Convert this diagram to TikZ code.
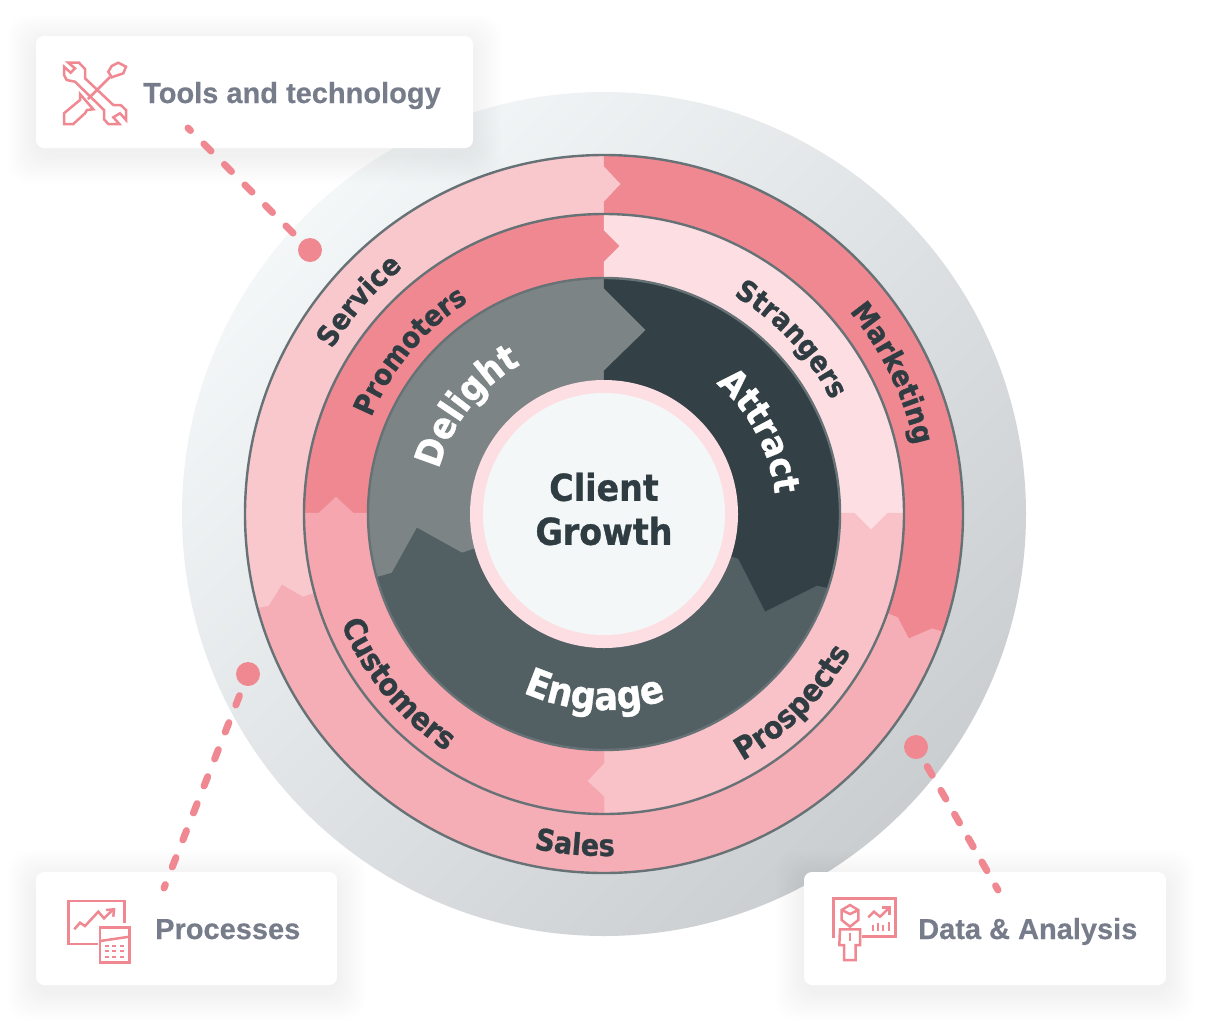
\documentclass[tikz,border=0pt]{standalone}
\usepackage{fontspec}
\setmainfont{Liberation Sans}
\newfontfamily\hv[FakeStretch=0.9,FakeBold=0.9]{DejaVu Sans Bold}
\newfontfamily\cardf[FakeBold=0.4]{Liberation Sans Bold}
\usetikzlibrary{decorations.text,calc}
\definecolor{pinkA}{HTML}{F08892}
\definecolor{pinkB}{HTML}{F8C8CC}
\definecolor{pinkC}{HTML}{F5AEB5}
\definecolor{pinkD}{HTML}{FDDFE3}
\definecolor{pinkE}{HTML}{F8C2C8}
\definecolor{pinkF}{HTML}{F5A6AF}
\definecolor{delightc}{HTML}{7C8486}
\definecolor{attractc}{HTML}{334146}
\definecolor{engagec}{HTML}{525F63}
\definecolor{ringline}{HTML}{667275}
\definecolor{core}{HTML}{F3F7F8}
\definecolor{discend}{HTML}{CACED1}
\definecolor{cardtext}{HTML}{767C8A}
\definecolor{ink}{HTML}{2F3D43}
\tikzset{
  ringline/.style={draw=ringline,line width=2.4},
  card/.style={fill=white,rounded corners=8,inner sep=0pt},
  cardlabel/.style={font=\cardf\fontsize{29}{29}\selectfont,text=cardtext,inner sep=0pt,anchor=base west},
  icon/.style={draw=pinkA,line width=2.5,line join=miter,fill=none},
  leader/.style={draw=pinkA,line width=7,line cap=round,dash pattern=on 10 off 19},
  dotn/.style={circle,fill=pinkA,inner sep=0pt,minimum size=24},
  seg/.style={line width=.4},
}
\newcommand{\softshadow}[4]{%
  \foreach \s in {1,...,14}{\fill[black,opacity=.003,rounded corners=20] (#1-2*\s,#2-2*\s+7) rectangle (#3+2*\s,#4+2*\s+7);}}
\newcommand{\arclabel}[6]{% radius, start, end, font size, color, text
  \path[decorate,decoration={text along path,text align={center},
    text={|\hv\fontsize{#4}{#4}\selectfont\color{#5}|#6}}]
    ($(604,514)+(#2:#1)$) arc[start angle=#2,end angle=#3,radius=#1];}
\begin{document}
\begin{tikzpicture}[x=1pt,y=-1pt]
\useasboundingbox (0,0) rectangle (1207,1026);
\fill[white] (0,0) rectangle (1207,1026);
\coordinate (c) at (604,514);
% outer gradient disc
\shade[top color=core,bottom color=discend,shading angle=45] (c) circle[radius=422];
% ring 1
\begin{scope}
\clip (c) circle[radius=359];
\fill[pinkB] (c) circle[radius=359];
\filldraw[pinkC,seg] (230,620)--(259,608)--(269,606)--(282,585)--(303,597)--(312,594)--(604,514)--(1000,640)--(1000,1000)--(200,1000)--cycle;
\filldraw[pinkA,seg] (604,100)--(1000,100)--(1000,648)--(942,631)--(932,628)--(909,638)--(898,617)--(888,613)--(604,514)--(604,202)--(621,184)--(604,166)--cycle;
\end{scope}
\draw[ringline] (c) circle[radius=359];
% ring 2
\begin{scope}
\clip (c) circle[radius=300];
\fill[pinkA] (c) circle[radius=300];
\filldraw[pinkD,seg] (604,200)--(1000,200)--(1000,513)--(888,513)--(871,530)--(854,513)--(604,513)--(604,262)--(620,246)--(604,230)--cycle;
\filldraw[pinkE,seg] (1000,513)--(888,513)--(871,530)--(854,513)--(604,513)--(604,763)--(587,781)--(604,797)--(604,900)--(1000,900)--cycle;
\filldraw[pinkF,seg] (604,900)--(604,797)--(587,781)--(604,763)--(604,513)--(353,513)--(336,497)--(319,513)--(200,513)--(200,900)--cycle;
\end{scope}
\draw[ringline] (c) circle[radius=300];
% ring 3
\begin{scope}
\clip (c) circle[radius=236];
\fill[delightc] (c) circle[radius=236];
\filldraw[attractc,seg] (604,200)--(900,200)--(900,606)--(826,588)--(817,586)--(765,612)--(738,559)--(732,557)--(604,514)--(604,371)--(646,330)--(604,288)--cycle;
\filldraw[engagec,seg] (300,597)--(378,577)--(392,573)--(417,528)--(462,553)--(474,549)--(604,514)--(732,557)--(738,559)--(765,612)--(817,586)--(826,588)--(900,606)--(900,800)--(300,800)--cycle;
\end{scope}
\draw[ringline] (c) circle[radius=236];
% centre
\fill[pinkD] (c) circle[radius=134];
\node[circle,fill=core,minimum size=242,inner sep=0pt] (hub) at (c) {};
\node[font=\hv\fontsize{37}{44}\selectfont,text=ink,align=center,inner sep=0pt] (hubtext) at (604,509) {Client\\Growth};
% ring labels
\arclabel{318}{-165}{-113}{29}{ink}{Service}
\arclabel{252}{-165}{-115}{29}{ink}{Promoters}
\arclabel{171}{-177}{-107}{37}{white}{Delight}
\arclabel{318}{-50}{-2}{29}{ink}{Marketing}
\arclabel{254}{-68}{-18}{29}{ink}{Strangers}
\arclabel{172}{-63}{7}{36}{white}{Attract}
\arclabel{283}{70}{20}{31}{ink}{Prospects}
\arclabel{285}{168}{113}{31}{ink}{Customers}
\arclabel{196}{128}{58}{39}{white}{Engage}
\arclabel{342}{110}{80}{30}{ink}{Sales}
% cards
\softshadow{36}{36}{473}{148}
\softshadow{36}{872}{337}{985}
\softshadow{804}{872}{1166}{985}
\node[card,minimum width=437,minimum height=112] (toolsCard) at (254.5,92) {};
\node[card,minimum width=301,minimum height=113] (procCard) at (186.5,928.5) {};
\node[card,minimum width=362,minimum height=113] (dataCard) at (985,928.5) {};
\node[cardlabel] (toolsText) at (143,103) {Tools and technology};
\node[cardlabel] (procText) at (155,939) {Processes};
\node[cardlabel] (dataText) at (918,939) {Data \& Analysis};
% tools icon
\draw[icon] (68.3,62.7)--(79,62.7)--(85,69)--(85,78.3)--(113.3,105)--(120.7,105)--(126,110)--(126,120)--(120,113.3)--(113.3,117.3)--(119.3,124)--(108.3,124)--(104,119.3)--(104,110)--(75,81.7)--(66.7,80)--(64,75)--(64,66.7)--(70.7,72.7)--(75,68.3)--cycle;
\draw[icon] (118.3,62.7)--(126,66.7)--(123.3,73.3)--(111.7,77.3)--(108.3,71.7)--(111.7,66)--cycle;
\draw[icon] (110,77)--(88,99);
\draw[icon] (64,113.3)--(64,124)--(73.3,124)--(85,113.3)--(87,110)--(93.3,109.3)--(80,94)--(80,100)--cycle;
% processes icon
\draw[icon] (124.7,923)--(124.7,901)--(68.3,901)--(68.3,944)--(98,944);
\draw[icon] (74.3,929.3)--(80,922.7)--(85,926)--(98.3,911.7)--(104,918.3)--(113.3,909.3);
\draw[icon] (106,910)--(114,909.3)--(113.3,916.7);
\draw[icon] (100,927.7) rectangle (129.3,962.3);
\draw[icon] (100,941)--(129.3,936.7);
\foreach \y in {946,951.3,956.7}{\foreach \x in {105,112.3,120}{\draw[pinkA,line width=2] (\x,\y)--(\x+3.5,\y);}}
% data icon
\draw[icon] (833.3,938)--(833.3,898.3)--(895.7,898.3)--(895.7,936.7)--(862,936.7);
\draw[icon] (850,905)--(858.3,910)--(858.3,920)--(850,926.7)--(841.7,920)--(841.7,910)--cycle;
\draw[icon] (841.7,910)--(850,914)--(858.3,910);
\draw[icon] (840,929.3)--(860,929.3)--(860,945)--(855.7,945)--(855.7,960)--(844,960)--(844,945)--(839.3,945)--cycle;
\draw[icon] (850,932.7)--(850,940.7);
\draw[icon] (868.3,917.3)--(874,911.7)--(880,916.7)--(889.3,907.7);
\draw[icon] (881.7,907.7)--(889.3,907.7)--(889.3,915);
\foreach \x/\t in {873.3/925,878.3/922.7,883.3/925,888.7/921.7}{\draw[pinkA,line width=2] (\x,\t)--(\x,931);}
% connectors
\node[dotn] (dotA) at (310,250) {};
\node[dotn] (dotB) at (248,674) {};
\node[dotn] (dotC) at (916,747) {};
\coordinate (endA) at (188,128);
\coordinate (endB) at (164,888);
\coordinate (endC) at (998,890);
\draw[leader,dash phase=5] (dotA.center)--(endA);
\draw[leader,dash phase=5.7] (dotB.center)--(endB);
\draw[leader,dash phase=5,dash pattern=on 10 off 17.5] (dotC.center)--(endC);
\end{tikzpicture}
\end{document}
